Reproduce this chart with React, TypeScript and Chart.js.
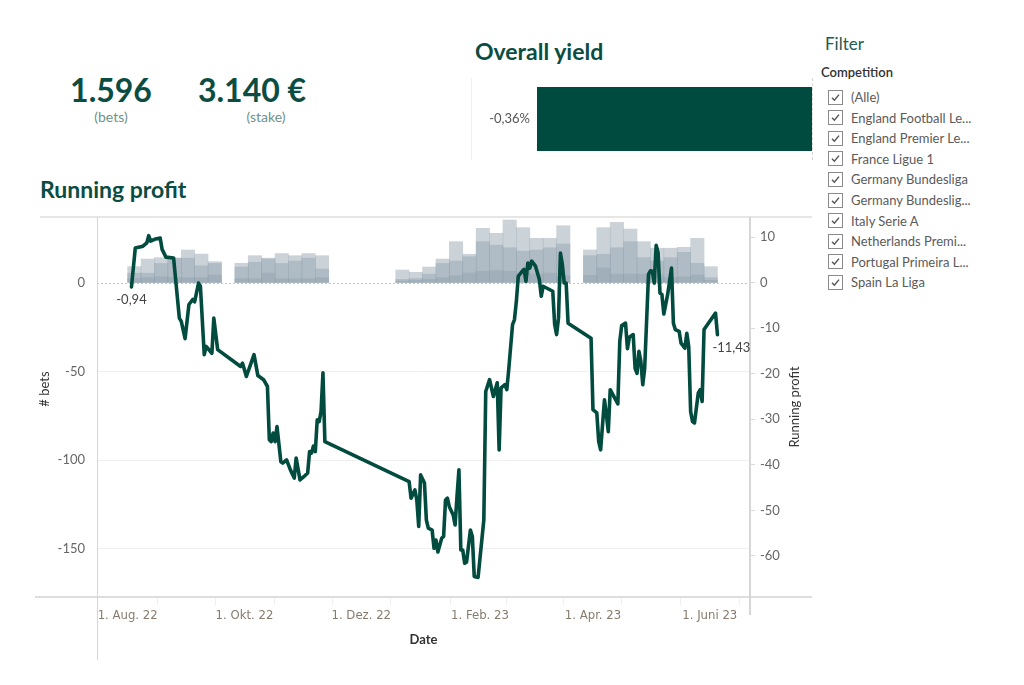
import React, { useEffect, useRef } from "react";
import { Chart, registerables } from "chart.js";

Chart.register(...registerables);

// ---------------- data ----------------
const kpiBets = "1.596";
const kpiStake = "3.140 €";
const yieldValue = -0.36;

const competitions = [
  "(Alle)",
  "England Football Le...",
  "England Premier Le...",
  "France Ligue 1",
  "Germany Bundesliga",
  "Germany Bundeslig...",
  "Italy Serie A",
  "Netherlands Premi...",
  "Portugal Primeira L...",
  "Spain La Liga",
];

const profitDates = [
  "2022-08-03", "2022-08-05", "2022-08-09", "2022-08-11", "2022-08-12", "2022-08-13", "2022-08-15",
  "2022-08-18", "2022-08-19", "2022-08-21", "2022-08-25", "2022-08-26", "2022-08-28", "2022-08-29",
  "2022-08-31", "2022-09-02", "2022-09-04", "2022-09-05", "2022-09-07", "2022-09-08", "2022-09-10",
  "2022-09-11", "2022-09-14", "2022-09-15", "2022-09-17", "2022-09-29", "2022-09-30", "2022-10-02",
  "2022-10-06", "2022-10-08", "2022-10-11", "2022-10-13", "2022-10-14", "2022-10-15", "2022-10-16",
  "2022-10-17", "2022-10-18", "2022-10-20", "2022-10-21", "2022-10-23", "2022-10-25", "2022-10-27",
  "2022-10-28", "2022-10-30", "2022-11-01", "2022-11-03", "2022-11-04", "2022-11-05", "2022-11-06",
  "2022-11-07", "2022-11-08", "2022-11-09", "2022-11-10", "2022-11-11", "2022-11-12", "2022-12-26",
  "2022-12-27", "2022-12-29", "2022-12-30", "2022-12-31", "2023-01-01", "2023-01-03", "2023-01-04",
  "2023-01-05", "2023-01-07", "2023-01-08", "2023-01-09", "2023-01-10", "2023-01-12", "2023-01-13",
  "2023-01-14", "2023-01-15", "2023-01-16", "2023-01-18", "2023-01-19", "2023-01-20", "2023-01-21",
  "2023-01-22", "2023-01-23", "2023-01-24", "2023-01-25", "2023-01-27", "2023-01-28", "2023-01-29",
  "2023-01-31", "2023-02-03", "2023-02-04", "2023-02-06", "2023-02-08", "2023-02-10", "2023-02-11",
  "2023-02-12", "2023-02-14", "2023-02-15", "2023-02-16", "2023-02-18", "2023-02-19", "2023-02-20",
  "2023-02-21", "2023-02-23", "2023-02-24", "2023-02-25", "2023-02-26", "2023-02-27", "2023-02-28",
  "2023-03-02", "2023-03-04", "2023-03-05", "2023-03-06", "2023-03-11", "2023-03-12", "2023-03-13",
  "2023-03-14", "2023-03-15", "2023-03-16", "2023-03-17", "2023-03-18", "2023-03-19", "2023-03-31",
  "2023-04-01", "2023-04-03", "2023-04-04", "2023-04-05", "2023-04-07", "2023-04-08", "2023-04-09",
  "2023-04-10", "2023-04-14", "2023-04-15", "2023-04-16", "2023-04-18", "2023-04-19", "2023-04-20",
  "2023-04-22", "2023-04-23", "2023-04-24", "2023-04-25", "2023-04-26", "2023-04-27", "2023-04-28",
  "2023-04-30", "2023-05-01", "2023-05-02", "2023-05-03", "2023-05-04", "2023-05-05", "2023-05-06",
  "2023-05-07", "2023-05-08", "2023-05-10", "2023-05-12", "2023-05-13", "2023-05-14", "2023-05-16",
  "2023-05-17", "2023-05-19", "2023-05-20", "2023-05-21", "2023-05-22", "2023-05-23", "2023-05-24",
  "2023-05-26", "2023-05-27", "2023-05-28", "2023-05-29", "2023-06-01", "2023-06-04", "2023-06-05",
];

const profitValues = [
  -0.94, 7.6, 8.0, 8.7, 10.3, 9.1, 9.5,
  9.8, 7.3, 5.6, 5.4, 1.0, -7.8, -8.5,
  -12.3, -4.8, -3.7, -4.2, -0.1, -0.8, -15.8,
  -14.0, -15.5, -7.8, -14.7, -18.4, -17.7, -20.6,
  -15.8, -20.4, -21.3, -22.8, -34.5, -34.9, -33.0,
  -34.9, -31.6, -39.3, -39.6, -38.9, -41.1, -42.9,
  -38.5, -43.3, -42.6, -41.8, -37.1, -37.4, -35.9,
  -37.1, -30.1, -30.5, -28.3, -19.8, -34.9, -43.7,
  -47.3, -45.5, -47.7, -53.5, -42.2, -44.0, -52.1,
  -53.9, -54.3, -58.3, -56.5, -59.1, -56.1, -55.7,
  -47.7, -47.3, -49.2, -51.0, -53.2, -46.9, -41.1,
  -58.7, -58.7, -61.6, -61.3, -54.3, -55.7, -64.5,
  -64.7, -52.1, -23.9, -21.3, -25.0, -22.0, -36.7,
  -23.1, -22.4, -23.5, -19.1, -9.2, -8.1, -4.1,
  1.4, 2.5, 2.9, 0.3, 4.3, 3.2, 4.7,
  3.6, 0.7, -3.0, -0.8, -1.9, -9.2, -11.4,
  -7.8, 6.5, 4.0, -0.1, -0.1, -8.9, -12.2,
  -27.9, -28.6, -34.9, -36.7, -25.7, -29.0, -32.7,
  -23.5, -26.6, -12.9, -9.4, -8.9, -14.5, -12.0,
  -11.4, -18.8, -19.9, -15.1, -17.3, -22.4, -18.8,
  1.8, 2.6, 2.5, -0.1, 8.2, 6.5, -2.3,
  -2.6, -6.9, -2.6, 3.2, -8.9, -10.3, -10.7,
  -13.3, -14.4, -11.1, -14.0, -28.3, -30.5, -30.8,
  -24.2, -23.5, -26.1, -10.3, -8.5, -6.7, -11.43,
];

// weekly number of bets (three overlapping competition groups)
const weekStarts = [
  "2022-08-01", "2022-08-08", "2022-08-15", "2022-08-22", "2022-08-29", "2022-09-05", "2022-09-12",
  "2022-09-26", "2022-10-03", "2022-10-10", "2022-10-17", "2022-10-24", "2022-10-31", "2022-11-07",
  "2022-12-19", "2022-12-26", "2023-01-02", "2023-01-09", "2023-01-16", "2023-01-23", "2023-01-30",
  "2023-02-06", "2023-02-13", "2023-02-20", "2023-02-27", "2023-03-06", "2023-03-13",
  "2023-03-27", "2023-04-03", "2023-04-10", "2023-04-17", "2023-04-24", "2023-05-01", "2023-05-08",
  "2023-05-15", "2023-05-22", "2023-05-29",
];
const betsGroupA = [
  9.2, 13.5, 14.3, 14.0, 18.6, 16.3, 12.0,
  11.1, 15.4, 14.0, 16.6, 15.4, 16.6, 15.4,
  7.3, 6.0, 9.0, 13.5, 23.3, 16.2, 30.8,
  28.0, 35.5, 31.2, 25.2, 25.2, 32.3,
  18.6, 31.2, 34.2, 30.4, 23.3, 19.6, 19.6,
  20.1, 25.2, 9.2,
];
const betsGroupB = [
  5.5, 5.5, 11.0, 14.0, 14.0, 9.7, 11.0,
  9.0, 11.7, 13.5, 11.0, 12.4, 14.0, 7.9,
  2.0, 2.5, 5.0, 11.0, 12.4, 14.8, 23.3,
  21.4, 19.9, 18.0, 18.6, 19.9, 22.0,
  15.4, 16.2, 19.9, 23.3, 14.3, 12.4, 14.3,
  17.3, 11.1, 3.0,
];
const betsGroupC = [
  2.5, 3.0, 3.5, 3.0, 3.0, 3.0, 4.5,
  2.4, 2.4, 5.6, 2.4, 2.4, 2.4, 3.0,
  1.0, 1.5, 2.0, 3.0, 4.0, 5.6, 6.6,
  7.0, 6.6, 5.6, 5.0, 5.6, 4.0,
  4.3, 8.5, 5.0, 5.0, 5.0, 4.5, 3.0,
  3.5, 4.5, 1.5,
];

const monthTickDates = [
  "2022-08-01", "2022-09-01", "2022-10-01", "2022-11-01", "2022-12-01", "2023-01-01",
  "2023-02-01", "2023-03-01", "2023-04-01", "2023-05-01", "2023-06-01",
];
const monthTickLabels = [
  "1. Aug. 22", "", "1. Okt. 22", "", "1. Dez. 22", "",
  "1. Feb. 23", "", "1. Apr. 23", "", "1. Juni 23",
];
const xDomain = ["2022-07-16", "2023-06-22"];
const betsTicks = [0, -50, -100, -150];
const betsDomain = [-177.1, 37.2];
const profitTicks = [10, 0, -10, -20, -30, -40, -50, -60];
const profitDomain = [-69.0, 14.4];

// ---------------- helpers / styles ----------------
const DARK = "#024b3f";
const TITLE = "#0b4d42";
const FONT = "Lato, 'Noto Sans', 'DejaVu Sans', sans-serif";
const COND = "'DejaVu Sans Condensed', 'Liberation Sans Narrow', Lato, sans-serif";
const BAR_FILL = "rgba(145,162,175,0.47)";

const dayOf = (s: string) => {
  const [y, m, d] = s.split("-").map(Number);
  return (Date.UTC(y, m - 1, d) - Date.UTC(2022, 7, 1)) / 86400000;
};
const fmt = (v: number) => v.toFixed(2).replace(".", ",");
const noPad = (s: any) => {
  s.paddingTop = 0;
  s.paddingBottom = 0;
  s.paddingLeft = 0;
  s.paddingRight = 0;
};

const decorPlugin = {
  id: "decor",
  beforeDatasetsDraw(chart: any) {
    const { ctx, chartArea, scales } = chart;
    const y0 = Math.round(scales.yL.getPixelForValue(0)) + 0.5;
    ctx.save();
    ctx.strokeStyle = "#c4c4c4";
    ctx.lineWidth = 1;
    ctx.setLineDash([2, 2]);
    ctx.beginPath();
    ctx.moveTo(chartArea.left, y0);
    ctx.lineTo(chartArea.right, y0);
    ctx.stroke();
    ctx.restore();
  },
  afterDraw(chart: any) {
    const { ctx, chartArea: a } = chart;
    ctx.save();
    ctx.strokeStyle = "#e6e6e6";
    ctx.lineWidth = 2;
    ctx.beginPath();
    ctx.moveTo(a.left - 57, a.top);
    ctx.lineTo(a.right + 62, a.top);
    ctx.stroke();
    ctx.strokeStyle = "#dddddd";
    ctx.beginPath();
    ctx.moveTo(a.left - 62, a.bottom);
    ctx.lineTo(a.right + 62, a.bottom);
    ctx.stroke();
    ctx.lineWidth = 1;
    ctx.strokeStyle = "#d6d6d6";
    ctx.beginPath();
    ctx.moveTo(a.left + 0.5, a.top);
    ctx.lineTo(a.left + 0.5, a.bottom + 63);
    ctx.stroke();
    ctx.lineWidth = 2;
    ctx.beginPath();
    ctx.moveTo(a.right, a.top);
    ctx.lineTo(a.right, a.bottom + 18);
    ctx.stroke();

    // axis titles (both read bottom-to-top)
    ctx.font = `13px ${FONT}`;
    ctx.fillStyle = "#333";
    ctx.textAlign = "center";
    ctx.textBaseline = "middle";
    ctx.save();
    ctx.translate(a.left - 52, a.top + 172);
    ctx.rotate(-Math.PI / 2);
    ctx.fillText("# bets", 0, 0);
    ctx.restore();
    ctx.save();
    ctx.translate(a.right + 45, (a.top + a.bottom) / 2);
    ctx.rotate(-Math.PI / 2);
    ctx.fillText("Running profit", 0, 0);
    ctx.restore();

    // start / end labels of the running profit line
    const pts = chart.getDatasetMeta(0).data;
    const first = pts[0];
    const last = pts[pts.length - 1];
    ctx.fillStyle = "#444";
    ctx.textAlign = "center";
    ctx.fillText(fmt(profitValues[0]), first.x, first.y + 13);
    ctx.textAlign = "left";
    ctx.fillText(fmt(profitValues[profitValues.length - 1]), last.x - 5, last.y + 13);
    ctx.restore();
  },
};

function MainChart() {
  const ref = useRef<HTMLCanvasElement | null>(null);
  useEffect(() => {
    if (!ref.current) return;
    const barSet = (vals: number[], order: number) => ({
      type: "bar" as const,
      yAxisID: "yL",
      data: weekStarts.map((w, i) => ({ x: dayOf(w) + 3.5, y: vals[i] })),
      backgroundColor: BAR_FILL,
      borderWidth: 0,
      grouped: false,
      barPercentage: 1,
      categoryPercentage: 1,
      order,
    });
    const chart = new Chart(ref.current, {
      type: "line",
      data: {
        datasets: [
          {
            type: "line",
            yAxisID: "yR",
            data: profitDates.map((d, i) => ({ x: dayOf(d), y: profitValues[i] })),
            borderColor: DARK,
            borderWidth: 3.6,
            pointRadius: 0,
            tension: 0,
            borderJoinStyle: "round",
            borderCapStyle: "round",
            order: 0,
          } as any,
          barSet(betsGroupA, 1),
          barSet(betsGroupB, 2),
          barSet(betsGroupC, 3),
        ],
      },
      options: {
        animation: false,
        responsive: true,
        maintainAspectRatio: false,
        layout: { padding: { top: 12, left: 0, right: 0, bottom: 0 } },
        plugins: { legend: { display: false }, tooltip: { enabled: false } },
        scales: {
          x: {
            type: "linear",
            offset: false,
            min: dayOf(xDomain[0]),
            max: dayOf(xDomain[1]),
            afterBuildTicks: (s: any) => {
              s.ticks = monthTickDates.map((d) => ({ value: dayOf(d) }));
            },
            afterFit: (s: any) => {
              s.height = 73;
              noPad(s);
            },
            ticks: {
              autoSkip: false,
              maxRotation: 0,
              color: "#867b6d",
              font: { size: 13, family: COND },
              padding: 3,
              callback: (_v: any, i: number) => monthTickLabels[i],
            },
            grid: { display: true, drawOnChartArea: false, drawTicks: true, tickLength: 8, tickColor: "#efefef" },
            border: { display: false },
            title: {
              display: true,
              text: "Date",
              color: "#333",
              font: { size: 13, weight: "bold", family: FONT },
              padding: { top: 0, bottom: 22 },
            },
          },
          yL: {
            type: "linear",
            position: "left",
            min: betsDomain[0],
            max: betsDomain[1],
            afterBuildTicks: (s: any) => {
              s.ticks = betsTicks.map((v) => ({ value: v }));
            },
            afterFit: (s: any) => {
              s.width = 67;
              noPad(s);
            },
            ticks: { color: "#666", font: { size: 13, family: FONT }, padding: 12, callback: (v: any) => String(v) },
            grid: {
              drawTicks: false,
              lineWidth: 1,
              color: (c: any) => (c.tick && c.tick.value === 0 ? "rgba(0,0,0,0)" : "#efefef"),
            },
            border: { display: false },
          },
          yR: {
            type: "linear",
            position: "right",
            min: profitDomain[0],
            max: profitDomain[1],
            afterBuildTicks: (s: any) => {
              s.ticks = profitTicks.map((v) => ({ value: v }));
            },
            afterFit: (s: any) => {
              s.width = 70;
              noPad(s);
            },
            ticks: { color: "#666", font: { size: 13, family: FONT }, padding: 5, callback: (v: any) => String(v) },
            grid: { drawOnChartArea: false, drawTicks: true, tickLength: 5, tickColor: "#d9d9d9" },
            border: { display: false },
          },
        },
      } as any,
      plugins: [decorPlugin],
    });
    return () => chart.destroy();
  }, []);
  return (
    <div style={{ position: "absolute", left: 30, top: 205, width: 790, height: 465 }}>
      <canvas ref={ref} />
    </div>
  );
}

function YieldChart() {
  const ref = useRef<HTMLCanvasElement | null>(null);
  useEffect(() => {
    if (!ref.current) return;
    const chart = new Chart(ref.current, {
      type: "bar",
      data: {
        labels: [fmt(yieldValue) + "%"],
        datasets: [
          {
            data: [yieldValue],
            backgroundColor: "#004b40",
            borderWidth: 0,
            barPercentage: 0.78,
            categoryPercentage: 1,
          },
        ],
      },
      options: {
        animation: false,
        responsive: true,
        maintainAspectRatio: false,
        indexAxis: "y",
        layout: { padding: 0 },
        plugins: { legend: { display: false }, tooltip: { enabled: false } },
        scales: {
          x: { display: false, min: yieldValue, max: 0 },
          y: {
            afterFit: (s: any) => {
              s.width = 66;
              noPad(s);
            },
            ticks: { color: "#555", font: { size: 13, family: FONT }, padding: 7 },
            grid: { display: false, drawTicks: false },
            border: { display: false },
          },
        },
      } as any,
    });
    return () => chart.destroy();
  }, []);
  return (
    <div style={{ position: "absolute", left: 471, top: 78, width: 341, height: 82 }}>
      <canvas ref={ref} />
    </div>
  );
}

const abs = (extra: React.CSSProperties): React.CSSProperties => ({
  position: "absolute",
  whiteSpace: "nowrap",
  lineHeight: 1.2,
  fontFamily: FONT,
  ...extra,
});

export default function App() {
  return (
    <div style={{ position: "absolute", left: 0, top: 0, width: 1024, height: 685, background: "#fff", overflow: "hidden" }}>
      {/* KPIs */}
      <div style={abs({ left: 111, top: 89.5, transform: "translate(-50%,-50%)", fontSize: 32, fontWeight: 700, color: TITLE })}>
        {kpiBets}
      </div>
      <div style={abs({ left: 111, top: 117, transform: "translate(-50%,-50%)", fontSize: 14, color: "#6e918b" })}>
        (bets)
      </div>
      <div style={abs({ left: 252, top: 89.5, transform: "translate(-50%,-50%)", fontSize: 32, fontWeight: 700, color: TITLE })}>
        {kpiStake}
      </div>
      <div style={abs({ left: 266, top: 117, transform: "translate(-50%,-50%)", fontSize: 14, color: "#6e918b" })}>
        (stake)
      </div>

      {/* Overall yield */}
      <div style={abs({ left: 475, top: 51.5, transform: "translateY(-50%)", fontSize: 23, fontWeight: 700, color: TITLE })}>
        Overall yield
      </div>
      <div style={{ position: "absolute", left: 471, top: 78, width: 1, height: 82, background: "#f0f0f0" }} />
      <div style={{ position: "absolute", left: 812, top: 78, width: 0, height: 82, borderLeft: "1px dashed #d8d8d8" }} />
      <YieldChart />

      {/* Running profit */}
      <div style={abs({ left: 40, top: 190, transform: "translateY(-50%)", fontSize: 23, fontWeight: 700, color: TITLE })}>
        Running profit
      </div>
      <MainChart />

      {/* Filter panel */}
      <div style={abs({ left: 825, top: 44, transform: "translateY(-50%)", fontSize: 17, color: "#245a50" })}>Filter</div>
      <div style={abs({ left: 821, top: 73, transform: "translateY(-50%)", fontSize: 13, fontWeight: 600, color: "#333" })}>
        Competition
      </div>
      {competitions.map((c, i) => (
        <div
          key={c}
          style={{
            position: "absolute",
            left: 828,
            top: 97 + i * 20.6,
            transform: "translateY(-50%)",
            display: "flex",
            alignItems: "center",
          }}
        >
          <span
            style={{
              width: 15,
              height: 15,
              boxSizing: "border-box",
              border: "1px solid #8a8a8a",
              background: "#fff",
              display: "inline-block",
              position: "relative",
            }}
          >
            <svg width="13" height="13" viewBox="0 0 13 13" style={{ position: "absolute", left: 0, top: 0 }}>
              <path d="M3 6.8 L5.4 9.3 L10 3.6" fill="none" stroke="#555" strokeWidth="1.4" />
            </svg>
          </span>
          <span style={{ marginLeft: 8, fontFamily: FONT, fontSize: 13, color: "#5a5a5a", whiteSpace: "nowrap" }}>{c}</span>
        </div>
      ))}
    </div>
  );
}
